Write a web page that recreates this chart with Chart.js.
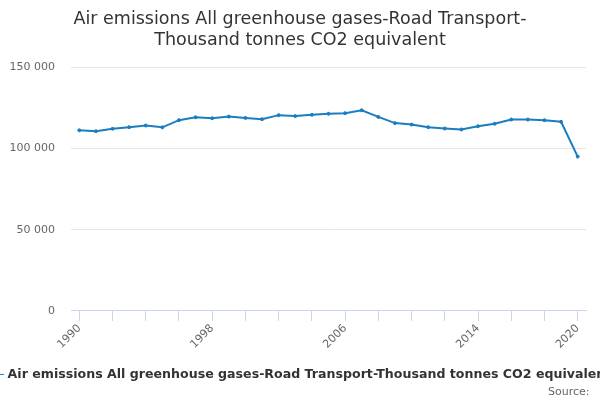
<!DOCTYPE html>
<html>
<head>
<meta charset="utf-8">
<script src="https://cdn.jsdelivr.net/npm/chart.js@4"></script>
<style>
  body { margin: 0; background: #fff; }
  #wrap { width: 600px; height: 400px; }
</style>
</head>
<body>
<div id="wrap"><canvas id="myChart"></canvas></div>
<script>
// years along the x-axis
var years = [1990,1991,1992,1993,1994,1995,1996,1997,1998,1999,2000,2001,2002,2003,2004,2005,
             2006,2007,2008,2009,2010,2011,2012,2013,2014,2015,2016,2017,2018,2019,2020];
// thousand tonnes CO2 equivalent
var emissions = [111100,110500,112000,113000,114000,112900,117300,119100,118500,119500,118700,117900,120400,119800,120600,121200,
                 121600,123400,119300,115500,114600,113000,112200,111600,113600,115100,117700,117700,117300,116300,94900];
var shownYears = [1990,1998,2006,2014,2020];
var yTicks = [0,50000,100000,150000];

var seriesName = "Air emissions All greenhouse gases-Road Transport-Thousand tonnes CO2 equivalent";
var blue = "#1a7dc1";

var points = years.map(function (y, i) { return { x: y, y: emissions[i] }; });

var ctx = document.getElementById("myChart");
var myChart = new Chart(ctx, {
  type: 'line',
  data: {
    datasets: [
      {
        data: points,
        label: seriesName,
        borderColor: blue,
        backgroundColor: blue,
        borderWidth: 2,
        pointRadius: 1.5,
        pointBorderWidth: 1,
        pointHoverRadius: 3,
        fill: false,
        tension: 0
      }
    ]
  },
  options: {
    responsive: true,
    maintainAspectRatio: false,
    animation: false,
    layout: { padding: { left: 0, right: 0, top: 0, bottom: 6 } },
    scales: {
      x: {
        type: 'linear',
        min: 1989.5,
        max: 2020.5,
        afterBuildTicks: function (scale) {
          var t = [];
          for (var y = 1990; y <= 2020; y += 2) t.push({ value: y });
          scale.ticks = t;
        },
        afterFit: function (scale) {
          // first rotated label hangs left like the original; keep room on the right
          scale.paddingLeft = 0;
          scale.paddingRight = 14;
          scale.height += 16;
        },
        border: { color: '#ccd6eb' },
        grid: { drawOnChartArea: false, tickLength: 10, color: '#ccd6eb' },
        ticks: {
          autoSkip: false,
          minRotation: 45,
          maxRotation: 45,
          padding: 1,
          color: '#666',
          font: { family: 'DejaVu Sans', size: 11 },
          callback: function (v) { return shownYears.indexOf(v) >= 0 ? String(v) : ''; }
        }
      },
      y: {
        min: 0,
        max: 150000,
        afterBuildTicks: function (scale) {
          scale.ticks = yTicks.map(function (v) { return { value: v }; });
        },
        afterFit: function (scale) {
          scale.width = 71;
        },
        border: { display: false },
        grid: { color: '#e6e6e6', drawTicks: false },
        ticks: {
          padding: 16,
          color: '#666',
          font: { family: 'DejaVu Sans', size: 11 },
          callback: function (v) { return String(v).replace(/\B(?=(\d{3})+(?!\d))/g, ' '); }
        }
      }
    },
    plugins: {
      title: {
        display: true,
        text: ["Air emissions All greenhouse gases-Road Transport-", "Thousand tonnes CO2 equivalent"],
        color: '#333',
        font: { family: 'DejaVu Sans', size: 17.5, weight: 'normal', lineHeight: 1.2 },
        padding: { top: 9, bottom: 16 }
      },
      subtitle: {
        display: true,
        position: 'bottom',
        align: 'end',
        text: 'Source:\u00a0\u00a0\u00a0',
        color: '#666',
        font: { family: 'DejaVu Sans', size: 11, lineHeight: 0.3 },
        padding: { top: 0, bottom: 0 }
      },
      legend: {
        position: 'bottom',
        labels: {
          usePointStyle: true,
          pointStyle: 'line',
          boxWidth: 16,
          color: '#333',
          font: { family: 'DejaVu Sans', size: 12.6, weight: 'bold' },
          padding: 0
        }
      },
      tooltip: { enabled: false }
    }
  }
});
</script>
</body>
</html>
